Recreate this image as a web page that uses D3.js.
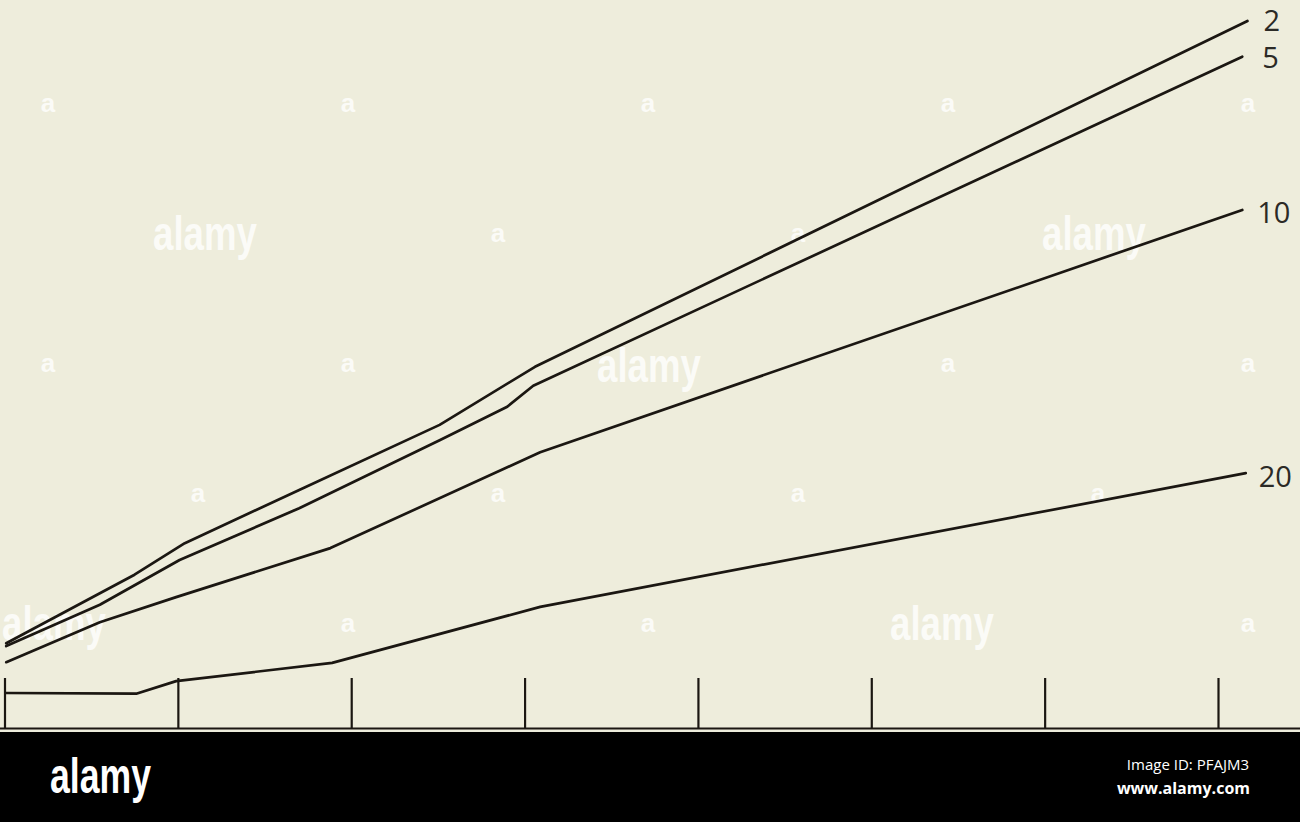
<!DOCTYPE html>
<html>
<head>
<meta charset="utf-8">
<script src="https://cdn.jsdelivr.net/npm/d3@7"></script>
<style>
  html, body { margin: 0; padding: 0; background: #000; }
  svg { display: block; }
</style>
</head>
<body>
<svg id="chart" width="1300" height="822"></svg>
<script>
// ---- data (x in tick units, y in arbitrary units) ----
const tickValues = [0, 1, 2, 3, 4, 5, 6, 7];
const seriesNames = ["2", "5", "10", "20"];
const series2  = [[0.01,12.1],[0.75,21.9],[1.04,26.4],[1.70,34.0],[2.51,43.3],[3.06,51.6],[7.17,101.0]];
const series5  = [[0.01,11.7],[0.55,17.6],[1.01,24.0],[1.70,31.4],[2.51,41.1],[2.90,45.9],[3.05,48.9],[7.14,95.9]];
const series10 = [[0.01,9.4],[0.55,15.1],[0.99,18.7],[1.88,25.7],[3.09,39.4],[7.14,74.0]];
const series20 = [[0.01,5.0],[0.76,4.9],[0.99,6.7],[1.89,9.3],[3.09,17.3],[7.16,36.4]];
const seriesData = [series2, series5, series10, series20];

const svg = d3.select("#chart");
const W = 1300, H = 822;
const bg = "#eeeddc";
const ink = "#1b1712";

// paper
svg.append("rect").attr("x", 0).attr("y", 0).attr("width", W).attr("height", 732).attr("fill", bg);

const x = d3.scaleLinear().domain([0, 7]).range([4.5, 1218]);
const y = d3.scaleLinear().domain([0, 100]).range([728, 28]);

// faint watermarks
const wm = svg.append("g").attr("fill", "#ffffff").attr("fill-opacity", 0.8)
  .attr("font-family", "'Liberation Sans Narrow', 'Liberation Sans', Arial, sans-serif")
  .attr("font-weight", "bold");
const smallA = [[48,112],[348,112],[648,112],[948,112],[1248,112],
                [498,242],[798,242],
                [48,372],[348,372],[948,372],[1248,372],
                [198,502],[498,502],[798,502],[1098,502],
                [348,632],[648,632],[1248,632]];
smallA.forEach(p => wm.append("text").attr("x", p[0]).attr("y", p[1])
  .attr("text-anchor", "middle").attr("font-size", 26).text("a"));
const bigW = [[153,250],[1042,250],[597,382],[2,640],[890,640]];
bigW.forEach(p => wm.append("text").attr("x", p[0]).attr("y", p[1])
  .attr("font-size", 48)
  .attr("textLength", 104).attr("lengthAdjust", "spacingAndGlyphs").text("alamy"));

// axis
const axis = d3.axisTop(x).tickValues(tickValues).tickSize(50).tickFormat("").tickSizeOuter(0);
const ax = svg.append("g").attr("transform", "translate(0,728)").call(axis);
ax.select(".domain").remove();
ax.selectAll(".tick line").attr("stroke", ink).attr("stroke-width", 2.2);
svg.append("line").attr("x1", 0).attr("x2", W).attr("y1", 728.5).attr("y2", 728.5)
  .attr("stroke", ink).attr("stroke-width", 2.2);

// lines
const line = d3.line().x(d => x(d[0])).y(d => y(d[1]));
seriesData.forEach(s => {
  svg.append("path").attr("d", line(s)).attr("fill", "none")
    .attr("stroke", ink).attr("stroke-width", 2.7)
    .attr("stroke-linejoin", "round").attr("stroke-linecap", "round");
});

// end labels
const labelOffsets = [[16, 31], [20, 68], [15, 223], [13, 487]];
seriesData.forEach((s, i) => {
  const last = s[s.length - 1];
  svg.append("text")
    .attr("x", x(last[0]) + labelOffsets[i][0])
    .attr("y", labelOffsets[i][1])
    .attr("font-family", "'Open Sans', 'Liberation Sans', sans-serif")
    .attr("font-size", 29).attr("fill", "#2b2a26")
    .text(seriesNames[i]);
});

// bottom band
svg.append("rect").attr("x", 0).attr("y", 732).attr("width", W).attr("height", H - 732).attr("fill", "#000");
svg.append("text").attr("x", 50).attr("y", 793)
  .attr("font-family", "'Liberation Sans Narrow', 'Liberation Sans', Arial, sans-serif")
  .attr("font-weight", "bold").attr("font-size", 50).attr("fill", "#fff")
  .attr("textLength", 101).attr("lengthAdjust", "spacingAndGlyphs").text("alamy");
svg.append("text").attr("x", 1249).attr("y", 770).attr("text-anchor", "end")
  .attr("font-family", "'Open Sans', sans-serif").attr("font-size", 15).attr("fill", "#fff")
  .text("Image ID: PFAJM3");
svg.append("text").attr("x", 1250).attr("y", 794).attr("text-anchor", "end")
  .attr("font-family", "'Open Sans', sans-serif").attr("font-weight", "bold")
  .attr("font-size", 16).attr("fill", "#fff").text("www.alamy.com");
</script>
</body>
</html>
